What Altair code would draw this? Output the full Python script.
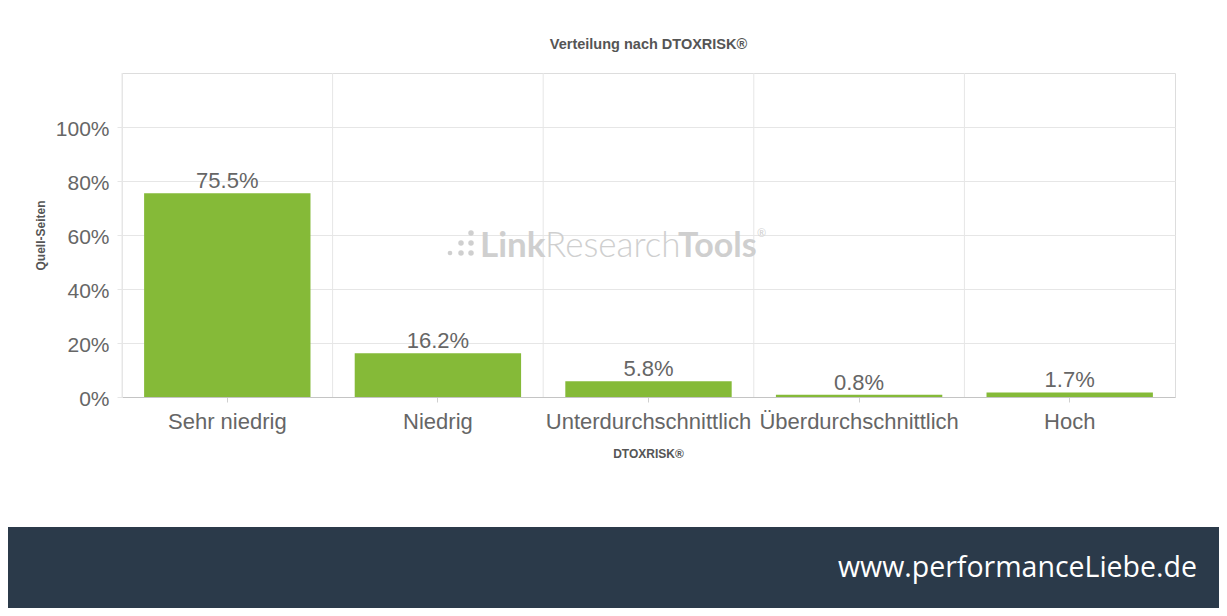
import altair as alt
import pandas as pd

# ---- data ----
categories = ["Sehr niedrig", "Niedrig", "Unterdurchschnittlich", "Überdurchschnittlich", "Hoch"]
shares = [75.5, 16.2, 5.8, 0.8, 1.7]
share_labels = ["75.5%", "16.2%", "5.8%", "0.8%", "1.7%"]
y_ticks = [0, 20, 40, 60, 80, 100]

df = pd.DataFrame({"cat": categories, "val": shares, "label": share_labels})
one = pd.DataFrame({"a": [0]})

GREEN = "#85ba38"
GRID = "#e6e6e6"
TXT = "#666666"
DARK = "#2b3a4a"
FONT = "Liberation Sans"

x_axis = alt.Axis(
    title="DTOXRISK®", titleFont=FONT, titleFontSize=12, titleFontWeight="bold",
    titleColor="#555555", titleX=526, titleY=56, titleBaseline="middle",
    labelFont=FONT, labelFontSize=22, labelColor=TXT, labelAngle=0, labelPadding=9,
    labelLimit=300,
    domainColor="#c4c4c4", tickColor="#d0d0d0", tickSize=5, grid=False,
)
x_scale = alt.Scale(paddingInner=0, paddingOuter=0)

y_axis = alt.Axis(
    values=y_ticks, labelExpr="datum.value + '%'", title="Quell-Seiten",
    titleFont=FONT, titleFontSize=12, titleFontWeight="bold", titleColor="#555555",
    titleX=-82, titleY=162, titleAngle=270, titleAlign="center", titleBaseline="middle",
    labelFont=FONT, labelFontSize=21, labelColor=TXT, labelPadding=8, labelOffset=2,
    grid=True, gridColor=GRID, tickColor=GRID, tickSize=5, domainColor=GRID,
)
y_scale = alt.Scale(domain=[0, 120], nice=False)

base = alt.Chart(df)

banner = alt.Chart(one).mark_rect(color=DARK).encode(
    x=alt.value(-140), x2=alt.value(1120), y=alt.value(454), y2=alt.value(600)
)

vgrid = base.mark_rule(color=GRID, strokeWidth=1).encode(
    x=alt.X("cat:N", sort=categories, scale=x_scale, axis=x_axis, bandPosition=0)
)

bars = base.mark_bar(width=alt.RelativeBandSize(0.79), color=GREEN).encode(
    x=alt.X("cat:N", sort=categories, scale=x_scale, axis=x_axis),
    y=alt.Y("val:Q", scale=y_scale, axis=y_axis),
)

values = base.mark_text(baseline="alphabetic", dy=-5, fontSize=22, font=FONT, color=TXT).encode(
    x=alt.X("cat:N", sort=categories, scale=x_scale, axis=x_axis),
    y=alt.Y("val:Q", scale=y_scale, axis=y_axis),
    text="label:N",
)

WM = "#cfcfcf"
wm_layers = []
for dx, dy, sz in [(349, 160, 30), (339, 170, 30), (349, 170, 30), (328, 180, 22), (339, 180, 30), (349, 180, 30)]:
    wm_layers.append(
        alt.Chart(one).mark_circle(color=WM, opacity=1, size=sz).encode(
            x=alt.value(dx), y=alt.value(dy)
        )
    )
wm_layers.append(alt.Chart(one).mark_text(text="Link", font="Lato", fontSize=35, fontWeight="bold",
                                          color=WM, align="left", baseline="alphabetic").encode(
    x=alt.value(358), y=alt.value(184)))
wm_layers.append(alt.Chart(one).mark_text(text="Research", font="Lato", fontSize=35, fontWeight=300,
                                          color=WM, align="left", baseline="alphabetic").encode(
    x=alt.value(423), y=alt.value(184)))
wm_layers.append(alt.Chart(one).mark_text(text="Tools", font="Lato", fontSize=34, fontWeight="bold",
                                          color=WM, align="left", baseline="alphabetic").encode(
    x=alt.value(556), y=alt.value(184)))
wm_layers.append(alt.Chart(one).mark_text(text="®", font="Lato", fontSize=11,
                                          color=WM, align="left", baseline="middle").encode(
    x=alt.value(635), y=alt.value(161)))

site = alt.Chart(one).mark_text(text="www.performanceLiebe.de", font="Open Sans", fontSize=28.5,
                                color="white", align="right", baseline="alphabetic").encode(
    x=alt.value(1075), y=alt.value(504))

chart = alt.layer(
    banner, vgrid, *wm_layers, bars, values, site
).properties(
    width=1053, height=324,
    title=alt.TitleParams("Verteilung nach DTOXRISK®", font=FONT, fontSize=14.5, fontWeight="bold",
                          color="#555555", anchor="middle", offset=20),
    autosize=alt.AutoSizeParams(type="none"),
    padding={"left": 114, "top": 65, "right": 44, "bottom": 211},
).configure_view(stroke=GRID).configure(background="white")

chart.save("out.html", embed_options={"renderer": "svg", "actions": False})
